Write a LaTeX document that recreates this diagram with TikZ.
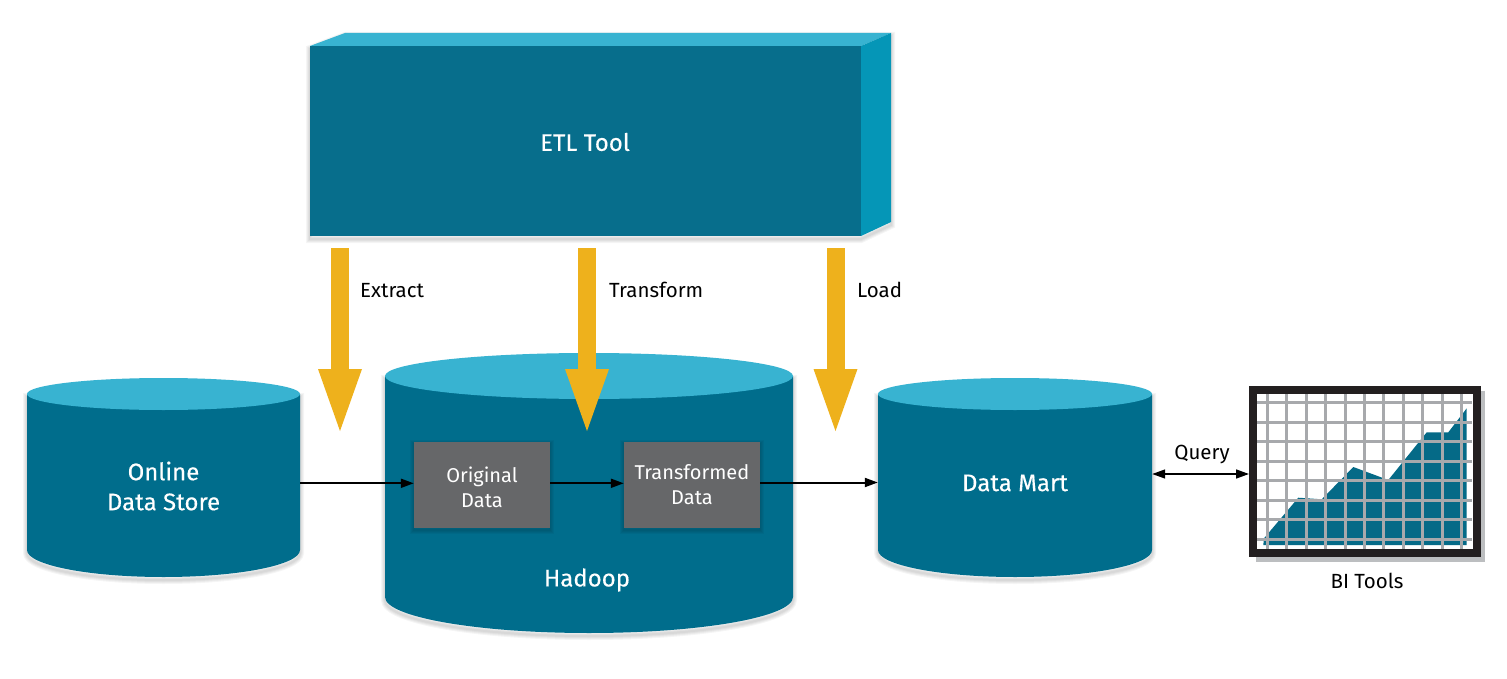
\documentclass[tikz,border=0pt]{standalone}
\usepackage{fontspec}
\setmainfont{Fira Sans}
\usetikzlibrary{arrows.meta,positioning}
\definecolor{cylbody}{HTML}{006D8C}
\definecolor{cyltop}{HTML}{38B3D1}
\definecolor{etlfront}{HTML}{076E8C}
\definecolor{etlside}{HTML}{0596B7}
\definecolor{gold}{HTML}{EEB11C}
\definecolor{boxgray}{HTML}{666769}
\definecolor{frameblk}{HTML}{231F20}
\definecolor{gridgray}{HTML}{A7A9AC}
\definecolor{dropgray}{HTML}{BCBEC0}
\definecolor{chartfill}{HTML}{056A87}
\tikzset{
  x=1pt,y=-1pt,
  big/.style={font=\fontsize{24}{30}\selectfont\addfontfeatures{FakeBold=0.3},text=white,align=center,inner sep=0pt},
  mid/.style={font=\fontsize{20}{25}\selectfont,text=white,align=center,inner sep=0pt},
  cap label/.style={font=\fontsize{20.5}{24}\selectfont,text=black,inner sep=0pt},
  flow/.style={line width=2pt,black,-{Triangle[length=13pt,width=9pt]}},
  both/.style={line width=1.5pt,black,{Triangle[length=13pt,width=9pt]}-{Triangle[length=13pt,width=9pt]}},
  bigarrow/.style={line width=18pt,gold,shorten <=12pt,-{Triangle[length=62pt,width=44pt,line width=0pt]}},
  databox/.style={fill=boxgray,minimum width=136pt,minimum height=86pt,inner sep=0pt},
  anchorbox/.style={inner sep=0pt,minimum height=1pt},
  gridline/.style={line width=3pt,gridgray},
}
\newcommand{\softsh}[2]{\foreach \w in {8,6,4,2}{\draw[line width=\w pt,black,opacity=.04,shift={#1}] #2;}}
% name, left, right, top y, top ry, bottom y, bottom ry, connector y
\newcommand{\mycyl}[8]{%
  \pgfmathsetmacro{\rr}{(#3-#2)/2}
  \pgfmathsetmacro{\mm}{(#3+#2)/2}
  \softsh{(0,3)}{(#2,#4) -- (#2,#6) arc[start angle=180,end angle=0,x radius=\rr,y radius=#7] -- (#3,#4) -- cycle}
  \fill[cylbody] (#2,#4) -- (#2,#6) arc[start angle=180,end angle=0,x radius=\rr,y radius=#7] -- (#3,#4) -- cycle;
  \fill[cyltop] (\mm,#4) circle[x radius=\rr,y radius=#5];
  \node[anchorbox,minimum width=#3-#2] (#1) at (\mm,#8) {};
}
\begin{document}
\begin{tikzpicture}
\useasboundingbox (0,0) rectangle (1507,679);
\fill[white] (0,0) rectangle (1507,679);

% ETL box
\softsh{(0,3)}{(310,46) -- (345,33) -- (891,33) -- (891,222) -- (861,236) -- (310,236) -- cycle}
\fill[cyltop] (310,46) -- (345,33) -- (891,33) -- (861,46) -- cycle;
\fill[etlside] (861,46) -- (891,33) -- (891,222) -- (861,236) -- cycle;
\node[fill=etlfront,minimum width=551pt,minimum height=190pt,inner sep=0pt] (etl) at (585.5,141) {};
\node[big] (etllabel) at (585,142) {ETL Tool};

% Cylinders
\mycyl{ods}{27}{300}{394}{16}{550}{27}{483.3}
\mycyl{hadoop}{385}{793}{376}{23}{597}{36}{483.3}
\mycyl{mart}{878}{1152}{394}{16}{550}{27}{482.5}
\node[big] (odslabel) at (163.5,486) {Online\\Data Store};
\node[big] (hadooplabel) at (587,580) {Hadoop};
\node[big] (martlabel) at (1015,483) {Data Mart};

% Inner boxes
\softsh{(0,2)}{(414,442) rectangle (550,528)}
\softsh{(0,2)}{(624,442) rectangle (760,528)}
\node[databox] (orig) at (482,485) {};
\node[databox] (trans) at (692,485) {};
\node[mid] (origlabel) at (482,487) {Original\\Data};
\node[mid] (translabel) at (692,484.5) {Transformed\\Data};

% Chart
\fill[dropgray] (1256,391) rectangle (1484.5,562);
\fill[white] (1249,386) rectangle (1481,557);
\fill[chartfill] (1263.3,545) -- (1264,538.3) -- (1298.3,497.7) -- (1321.7,499.3) -- (1353.3,467) -- (1388.3,480) -- (1426.7,432.3) -- (1448.3,432.3) -- (1466.7,408.3) -- (1466.7,545) -- cycle;
\foreach \gx in {1267,1286.6,1306,1325.4,1345,1364.4,1383.8,1403.3,1422.7,1442.2,1461.7}{\draw[gridline] (\gx,394) -- (\gx,549);}
\foreach \gy in {402.7,422.2,441.7,461.2,480.7,500.1,519.7,539.2}{\draw[gridline] (1257,\gy) -- (1472,\gy);}
\node[draw=frameblk,line width=8pt,minimum width=224pt,minimum height=163pt,inner sep=0pt] (chart) at (1365,471.5) {};
\node[cap label] (bilabel) at (1367,581) {BI Tools};

% Connectors
\draw[flow] (ods.east) -- (orig.west |- ods.east);
\draw[flow] (orig.east |- hadoop.center) -- (trans.west |- hadoop.center);
\draw[flow] (trans.east |- mart.west) -- (mart.west);
\coordinate (qy) at (1200,474);
\draw[both] (mart.east |- qy) -- (chart.west |- qy);
\node[cap label] (query) at (1202,454) {Query};

% Gold arrows
\coordinate (e1) at (340,431);
\coordinate (e2) at (587,431);
\coordinate (e3) at (835.5,431);
\draw[bigarrow] (etl.south -| e1) -- (e1);
\draw[bigarrow] (etl.south -| e2) -- (e2);
\draw[bigarrow] (etl.south -| e3) -- (e3);
\node[cap label,anchor=west] (extract) at (360,290.5) {Extract};
\node[cap label,anchor=west] (transform) at (609,290) {Transform};
\node[cap label,anchor=west] (load) at (857,290) {Load};
\end{tikzpicture}
\end{document}
